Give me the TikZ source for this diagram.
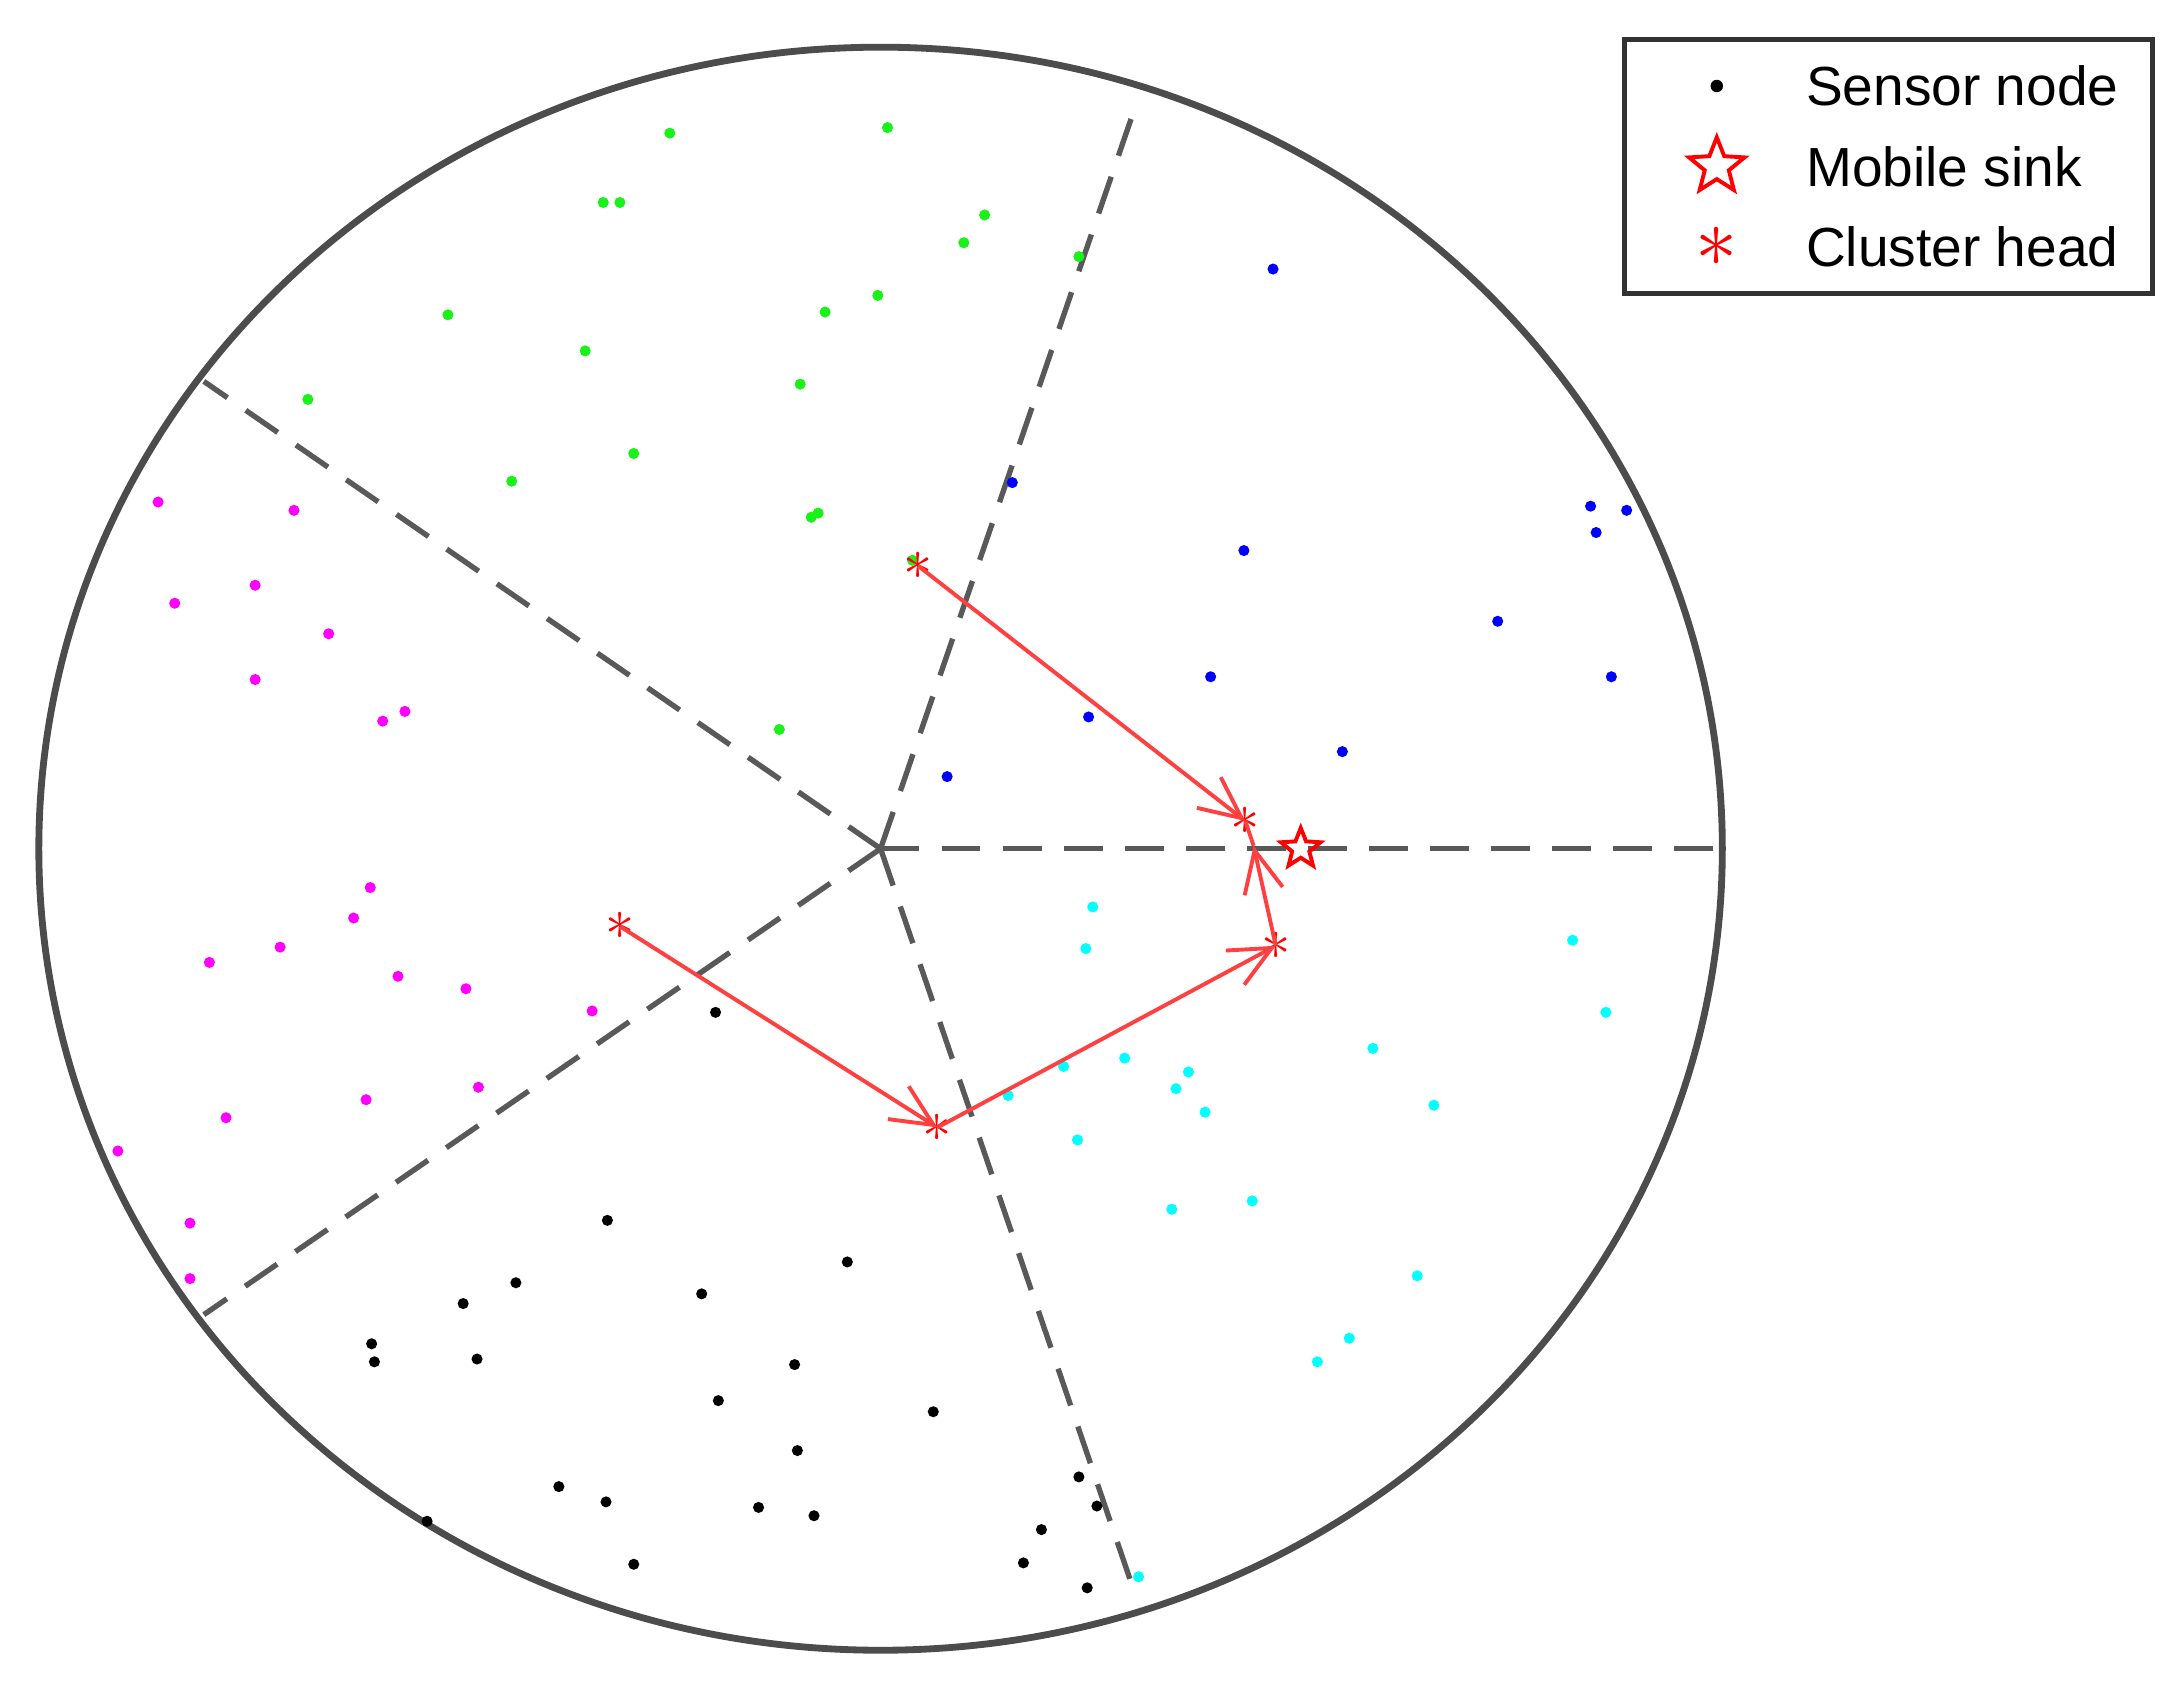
\documentclass[tikz,border=0pt]{standalone}
\usepackage{fontspec}
\setmainfont{Liberation Sans}
\usetikzlibrary{shapes.geometric,arrows.meta}
\definecolor{mmag}{rgb}{1,0,1}
\definecolor{mcyan}{rgb}{0,1,1}
\definecolor{mgreen}{rgb}{0.1,0.95,0.1}
\definecolor{mblue}{rgb}{0,0,1}
\begin{document}
\begin{tikzpicture}[x=0.01cm,y=-0.01cm,
  dv/.style={circle,fill,inner sep=0pt,minimum size=0.08cm},
  ch/.style={red,font=\fontsize{13}{13}\selectfont},
  arr/.style={red!75!white,line width=0.8pt,-{Straight Barb[length=0.3cm,width=0.28cm]}},
  dsh/.style={gray!70!black,line width=1.1pt,dash pattern=on 0.28cm off 0.16cm},
  lt/.style={font=\fontsize{11.3}{13}\selectfont,anchor=west}]
\useasboundingbox (0,0) rectangle (1567,1226);
\draw[gray!60!black,line width=1.4pt] (635,612) ellipse [x radius=607,y radius=-578];
\coordinate (c) at (635,612);
\foreach \p in {(820,73),(147,275),(147,948),(818,1148),(1243,612)} \draw[dsh] (c) -- \p;
\foreach \p in {(483,96),(640,92),(435,146),(447,146),(710,155),(695,175),(778,185),(323,227),(595,225),(633,213),(422,253),(577,277),(222,288),(457,327),(369,347),(590,370),(585,373),(562,526),(658,404)}
  \node[dv,mgreen] at \p {};
\foreach \p in {(918,194),(730,348),(897,397),(1147,365),(1173,368),(1151,384),(1080,448),(873,488),(1162,488),(785,517),(968,542),(683,560)}
  \node[dv,mblue] at \p {};
\foreach \p in {(114,362),(212,368),(126,435),(184,422),(237,457),(184,490),(276,520),(292,513),(267,640),(255,662),(151,694),(202,683),(287,704),(336,713),(427,729),(163,806),(264,793),(345,784),(85,830),(137,882),(137,922)}
  \node[dv,mmag] at \p {};
\foreach \p in {(788,654),(783,684),(1134,678),(1158,730),(990,756),(811,763),(767,769),(857,773),(848,785),(727,790),(869,802),(1034,797),(777,822),(845,872),(903,866),(1022,920),(973,965),(950,982),(821,1137)}
  \node[dv,mcyan] at \p {};
\foreach \p in {(516,730),(438,880),(611,910),(372,925),(334,940),(506,933),(268,969),(270,982),(344,980),(573,984),(518,1010),(673,1018),(575,1046),(403,1072),(437,1083),(547,1087),(587,1093),(778,1065),(791,1086),(308,1097),(751,1103),(457,1128),(738,1127),(784,1145)}
  \node[dv,black] at \p {};
\node[ch,inner sep=0pt] (h1) at (662,408) {$\ast$};
\node[ch,inner sep=0pt] (h2) at (898,592) {$\ast$};
\node[ch,inner sep=0pt] (h3) at (920,682) {$\ast$};
\node[ch,inner sep=0pt] (h4) at (447,668) {$\ast$};
\node[ch,inner sep=0pt] (h5) at (676,813) {$\ast$};
\node[star,star points=5,star point ratio=2.3,draw=red,line width=0.8pt,inner sep=0pt,minimum size=0.3cm] (s) at (938,612) {};
\draw[arr] (h1.center) -- (h2.center);
\draw[arr] (h4.center) -- (h5.center);
\draw[arr] (h5.center) -- (h3.center);
\draw[arr] (h3.center) -- (904,610);
\draw[red!75!white,line width=0.8pt] (904,610) -- (h2.center);
% legend
\node[draw=gray!40!black,line width=1pt,minimum width=3.8cm,minimum height=1.83cm,anchor=north west,fill=white] (lg) at (1170,27) {};
\node[dv,black,minimum size=0.09cm] (l1) at (1238,62) {};
\node[star,star points=5,star point ratio=2.3,draw=red,line width=0.8pt,inner sep=0pt,minimum size=0.42cm] (l2) at (1238,120) {};
\node[ch,inner sep=0pt,font=\fontsize{16}{16}\selectfont] (l3) at (1238,178) {$\ast$};
\node[lt] at (1290,62) {Sensor node};
\node[lt] at (1290,120) {Mobile sink};
\node[lt] at (1290,178) {Cluster head};
\end{tikzpicture}
\end{document}
